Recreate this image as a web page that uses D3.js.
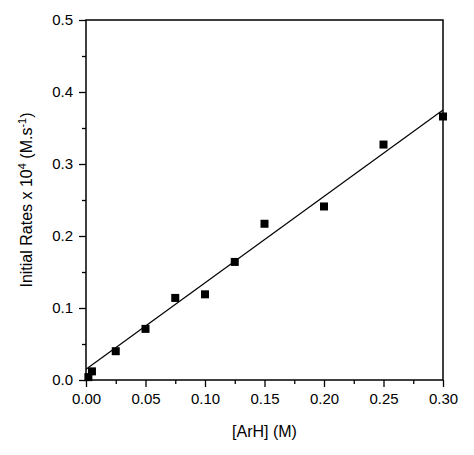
<!DOCTYPE html>
<html><head><meta charset="utf-8">
<script src="https://cdn.jsdelivr.net/npm/d3@7"></script>
<style>body{margin:0;background:#fff}text{font-family:Arial,"Liberation Sans",sans-serif}</style>
</head><body><div id="main"></div>
<script>
const xVals = [0.002, 0.005, 0.025, 0.05, 0.075, 0.10, 0.125, 0.15, 0.20, 0.25, 0.30];
const yVals = [0.004, 0.012, 0.040, 0.071, 0.114, 0.119, 0.164, 0.217, 0.241, 0.327, 0.366];
const fitLine = [[0, 0.015], [0.30, 0.375]];
const xTicks = [0, 0.05, 0.10, 0.15, 0.20, 0.25, 0.30];
const yTicks = [0, 0.1, 0.2, 0.3, 0.4, 0.5];

const w = 474, h = 455, m = {l: 86, r: 31, t: 20, b: 75};
const svg = d3.select("#main").append("svg").attr("width", w).attr("height", h);
const x = d3.scaleLinear().domain([0, 0.30]).range([m.l, w - m.r]);
const y = d3.scaleLinear().domain([0, 0.5]).range([h - m.b, m.t]);

// frame
svg.append("rect").attr("x", m.l).attr("y", m.t)
   .attr("width", w - m.r - m.l).attr("height", h - m.b - m.t)
   .attr("fill", "none").attr("stroke", "#000").attr("stroke-width", 1.5);

const xa = svg.append("g").attr("transform", `translate(0,${h - m.b})`)
   .call(d3.axisBottom(x).tickValues(xTicks).tickFormat(d3.format(".2f")).tickSize(7).tickPadding(6));
svg.append("g").attr("transform", `translate(0,${h - m.b})`)
   .call(d3.axisBottom(x).tickValues(d3.range(0.025, 0.3, 0.05)).tickFormat("").tickSize(4));
const ya = svg.append("g").attr("transform", `translate(${m.l},0)`)
   .call(d3.axisLeft(y).tickValues(yTicks).tickFormat(d3.format(".1f")).tickSize(7).tickPadding(6));
svg.append("g").attr("transform", `translate(${m.l},0)`)
   .call(d3.axisLeft(y).tickValues(d3.range(0.05, 0.5, 0.1)).tickFormat("").tickSize(4));
svg.selectAll(".domain").remove();
svg.selectAll(".tick line").attr("stroke-width", 1.3);
svg.selectAll(".tick text").attr("font-size", 15).attr("fill", "#000");

svg.append("line")
   .attr("x1", x(fitLine[0][0])).attr("y1", y(fitLine[0][1]))
   .attr("x2", x(fitLine[1][0])).attr("y2", y(fitLine[1][1]))
   .attr("stroke", "#000").attr("stroke-width", 1.2);

svg.selectAll(".pt").data(xVals).enter().append("rect")
   .attr("x", (d) => x(d) - 4).attr("y", (d, i) => y(yVals[i]) - 4)
   .attr("width", 8).attr("height", 8).attr("fill", "#000");

svg.append("text").attr("x", (m.l + w - m.r) / 2).attr("y", 437)
   .attr("text-anchor", "middle").attr("font-size", 16).text("[ArH] (M)");
const yl = svg.append("text").attr("transform", `translate(32,${(m.t + h - m.b) / 2}) rotate(-90)`)
   .attr("text-anchor", "middle").attr("font-size", 16);
yl.append("tspan").text("Initial Rates x 10");
yl.append("tspan").attr("dy", -6).attr("font-size", 11).text("4");
yl.append("tspan").attr("dy", 6).text(" (M.s");
yl.append("tspan").attr("dy", -6).attr("font-size", 11).text("-1");
yl.append("tspan").attr("dy", 6).text(")");
</script></body></html>
